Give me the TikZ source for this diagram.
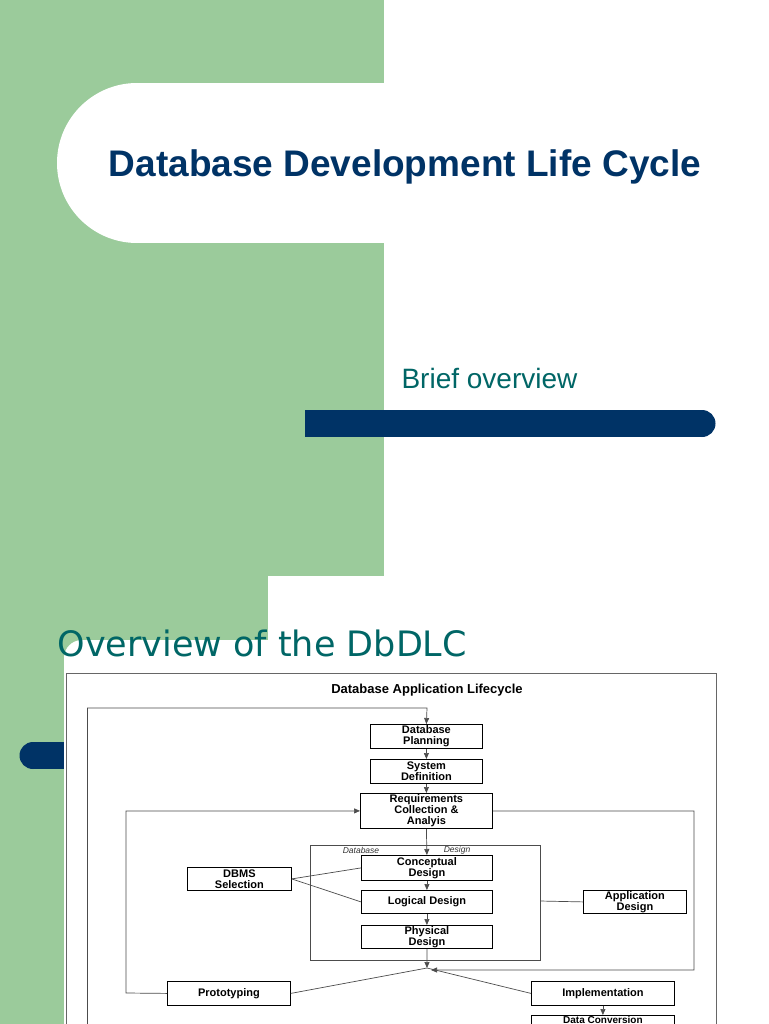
\documentclass[tikz,border=0pt]{standalone}
\usepackage{fontspec}
\setmainfont{Liberation Sans}
\newfontfamily\dejavu{DejaVu Sans}
\usetikzlibrary{arrows.meta}
\definecolor{sgreen}{RGB}{155,203,155}
\definecolor{navy}{RGB}{0,51,102}
\definecolor{teal2}{RGB}{0,102,102}
\begin{document}
\begin{tikzpicture}[x=1pt,y=-1pt,
  bx/.style={draw=black,line width=0.8pt,fill=white,font=\bfseries\fontsize{11}{11}\selectfont,align=center,inner sep=0pt,anchor=north west},
  ln/.style={draw=black!70,line width=0.7pt},
  ar/.style={ln,-{Triangle[length=6pt,width=5pt]}}]
\useasboundingbox (0,0) rectangle (768,1024);
\fill[white] (0,0) rectangle (768,1024);
% slide 1
\fill[sgreen] (0,0) rectangle (384,576);
\fill[white] (137,83) rectangle (768,243);
\fill[white] (137,163) circle[radius=80];
\fill[navy] (305,410) rectangle (702,437);
\fill[navy] (702,423.5) circle[radius=13.5];
\node[text=navy,font=\bfseries\fontsize{37}{37}\selectfont] (t1) at (405,167) {Database Development Life Cycle};
\node[text=teal2,font=\fontsize{28}{28}\selectfont,anchor=west] (t2) at (398,378) {Brief overview};
% slide 2
\fill[sgreen] (0,576) rectangle (268,1024);
\fill[navy] (33,742) rectangle (80,769);
\fill[navy] (33,755.5) circle[radius=13.5];
\fill[white] (268,576) rectangle (768,640);
\fill[white] (82,640) rectangle (768,1024);
\fill[white] (64,658) rectangle (768,1024);
\fill[white] (82,658) circle[radius=18];
\node[text=teal2,font=\dejavu\fontsize{35}{35}\selectfont,anchor=west] (t3) at (54,643) {Overview of the DbDLC};
% diagram frame
\draw[black!60,line width=0.7pt] (66,673) rectangle (716,1030);
\node[font=\bfseries\fontsize{13}{13}\selectfont] (dt) at (427,690) {Database Application Lifecycle};
\draw[ln] (310,845) rectangle (540,960);
\node[font=\itshape\fontsize{8.5}{8.5}\selectfont,text=black!80] (dl) at (361,850) {Database};
\node[font=\itshape\fontsize{8.5}{8.5}\selectfont,text=black!80] (dr) at (457,850) {Design};
\node[bx,minimum width=112,minimum height=24] (dp) at (370,724) {Database\\Planning};
\node[bx,minimum width=112,minimum height=24] (sd) at (370,759) {System\\Definition};
\node[bx,minimum width=132,minimum height=35] (rq) at (360,793) {Requirements\\Collection \&\\Analyis};
\node[bx,minimum width=131,minimum height=25] (cd) at (361,855) {Conceptual\\Design};
\node[bx,minimum width=131,minimum height=23] (ld) at (361,890) {Logical Design};
\node[bx,minimum width=131,minimum height=23] (pd) at (361,925) {Physical\\Design};
\node[bx,minimum width=104,minimum height=23] (db) at (187,867) {DBMS\\Selection};
\node[bx,minimum width=103,minimum height=23] (ad) at (583,890) {Application\\Design};
\node[bx,minimum width=123,minimum height=24] (pr) at (167,981) {Prototyping};
\node[bx,minimum width=143,minimum height=24] (im) at (531,981) {Implementation};
\node[bx,minimum width=143,minimum height=10,font=\bfseries\fontsize{10}{10}\selectfont] (dc) at (531,1015) {Data Conversion};
\coordinate (m) at (427,968);
\coordinate (tl) at (87,708);
\coordinate (tr) at (427,708);
\draw[ln] (tl) -- (87,1030);
\draw[ar] (tl) -- (tr) -- (dp.north);
\draw[ar] (dp.south) -- (sd.north);
\draw[ar] (sd.south) -- (rq.north);
\draw[ar] (rq.south) -- (cd.north);
\draw[ar] (cd.south) -- (ld.north);
\draw[ar] (ld.south) -- (pd.north);
\draw[ar] (pd.south) -- (m);
\draw[ar] (pr.west) -- (126,993) -- (126,811) -- (rq.west);
\draw[ar] (rq.east) -- (694,811) -- (694,970) -- (431,970);
\draw[ln] (pr.east) -- (m);
\draw[ln] (im.west) -- (m);
\draw[ln] (db.east) -- (cd.west);
\draw[ln] (db.east) -- (ld.west);
\draw[ln] (540,901) -- (ad.west);
\draw[ar] (im.south) -- (dc.north);
\end{tikzpicture}
\end{document}
